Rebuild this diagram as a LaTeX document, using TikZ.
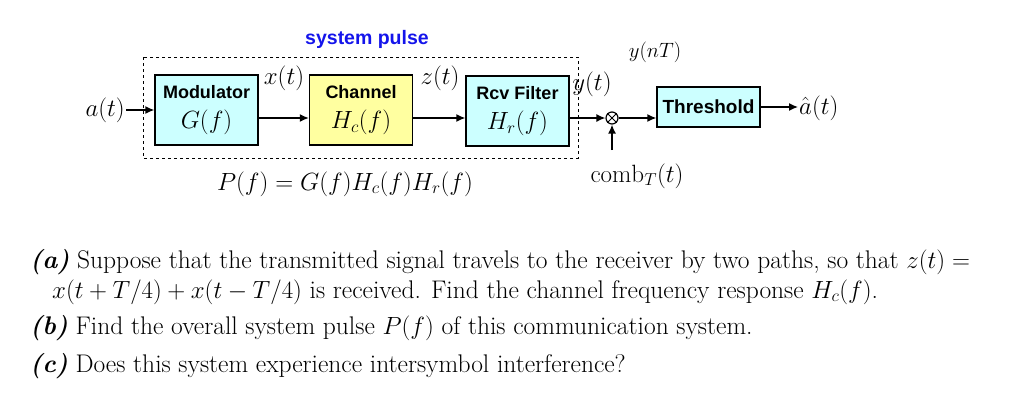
\documentclass[tikz,border=0pt]{standalone}
\usepackage{fontspec}
\newfontfamily\hv{Liberation Sans}
\usetikzlibrary{arrows.meta}
\definecolor{cy}{RGB}{204,255,255}
\definecolor{yl}{RGB}{255,255,160}
\definecolor{bl}{RGB}{20,20,235}
\tikzset{
 blk/.style={draw,line width=1.3pt,minimum width=103pt,minimum height=70pt,inner sep=1pt,align=center,font=\hv\bfseries\fontsize{18}{26}\selectfont},
 sig/.style={line width=1.4pt,-{Latex[length=9pt,width=8pt]}},
 lab/.style={font=\fontsize{25}{28}\selectfont,inner sep=1pt},
 body/.style={anchor=base west,inner sep=0,font=\fontsize{25.5}{28}\selectfont}
}
\begin{document}
\begin{tikzpicture}[x=1pt,y=-1pt]
\useasboundingbox (0,0) rectangle (1024,405);
\draw[dashed,line width=1pt] (143,57) rectangle (578,158);
\node[blk,fill=cy] (mod) at (206.5,110) {Modulator\\[4pt]\normalfont\fontsize{25}{26}\selectfont$G(f)$};
\node[blk,fill=yl] (ch) at (361,110) {Channel\\[4pt]\normalfont\fontsize{25}{26}\selectfont$H_c(f)$};
\node[blk,fill=cy] (rf) at (517.5,111) {Rcv Filter\\[4pt]\normalfont\fontsize{25}{26}\selectfont$H_r(f)$};
\node[blk,fill=cy,minimum height=40pt,font=\hv\bfseries\fontsize{19}{22}\selectfont] (th) at (708.5,107) {Threshold};
\node[draw,circle,line width=1.2pt,inner sep=0,minimum size=12pt] (mx) at (612,118) {};
\draw[line width=1pt] (mx.north west)--(mx.south east) (mx.north east)--(mx.south west);
\node[lab,anchor=east] (a) at (126,110) {$a(t)$};
\node[lab,anchor=west] (ah) at (798,108) {$\hat a(t)$};
\coordinate (cb) at (612,150);
\draw[sig] (a) -- (mod.west|-0,110);
\draw[sig] (mod.east|-0,118) -- (ch.west|-0,118);
\draw[sig] (ch.east|-0,118) -- (rf.west|-0,118);
\draw[sig] (rf.east|-0,118) -- (mx);
\draw[sig] (cb) -- (mx);
\draw[sig] (mx) -- (th.west|-0,118);
\draw[sig] (th.east) -- (th.east -| ah.west);
\node[lab] (xt) at (284,78) {$x(t)$};
\node[lab] (zt) at (440,78) {$z(t)$};
\node[lab] (yt) at (592,84) {$y(t)$};
\node[font=\fontsize{20}{22}\selectfont] (ynt) at (655,52) {$y(nT)$};
\node[lab] (comb) at (637,176) {$\mathrm{comb}_T(t)$};
\node[lab] (pf) at (345,184) {$P(f)=G(f)H_c(f)H_r(f)$};
\node[font=\hv\bfseries\fontsize{19.5}{22}\selectfont,text=bl] (sp) at (367,39) {system pulse};
\node[body] (la) at (30,268) {\textbf{\textit{(a)}} Suppose that the transmitted signal travels to the receiver by two paths, so that $z(t)=$};
\node[body] (la2) at (52,298) {$x(t+T/4)+x(t-T/4)$ is received. Find the channel frequency response $H_c(f)$.};
\node[body] (lb) at (30,334) {\textbf{\textit{(b)}} Find the overall system pulse $P(f)$ of this communication system.};
\node[body] (lc) at (30,372) {\textbf{\textit{(c)}} Does this system experience intersymbol interference?};
\end{tikzpicture}
\end{document}
